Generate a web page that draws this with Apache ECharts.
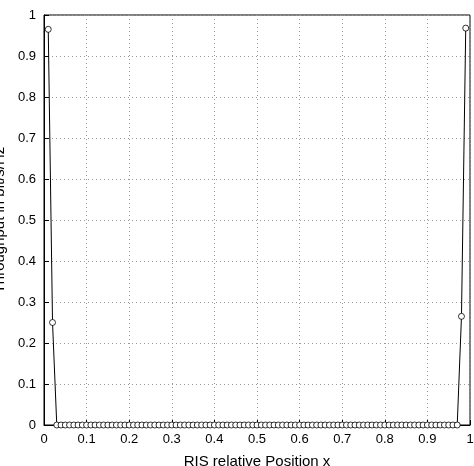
<!DOCTYPE html><html><head><meta charset="utf-8"><script src="https://cdn.jsdelivr.net/npm/echarts@6/dist/echarts.min.js"></script></head><body style="margin:0;background:#fff"><div id="c" style="width:474px;height:466px"></div><script>
var xTicks=[0,0.1,0.2,0.3,0.4,0.5,0.6,0.7,0.8,0.9,1];
var yTicks=[0,0.1,0.2,0.3,0.4,0.5,0.6,0.7,0.8,0.9,1];
var throughput=[0.965,0.25,0,0,0,0,0,0,0,0,0,0,0,0,0,0,0,0,0,0,0,0,0,0,0,0,0,0,0,0,0,0,0,0,0,0,0,0,0,0,0,0,0,0,0,0,0,0,0,0,0,0,0,0,0,0,0,0,0,0,0,0,0,0,0,0,0,0,0,0,0,0,0,0,0,0,0,0,0,0,0,0,0,0,0,0,0,0,0,0,0,0,0,0,0,0,0,0.265,0.968];
var positions=throughput.map(function(v,i){return +((i+1)/100).toFixed(2);});
var data=positions.map(function(x,i){return [x,throughput[i]];});
var font='Liberation Sans';
var ax={type:'value',min:0,max:1,interval:0.1,
 axisLine:{show:true,lineStyle:{color:'#000',width:1}},
 axisTick:{show:true,inside:true,length:5,lineStyle:{color:'#000'}},
 axisLabel:{color:'#000',fontSize:13,fontFamily:font,formatter:function(v){return +v.toFixed(1)+'';}},
 splitLine:{show:true,lineStyle:{color:'#999',type:[1,3],width:1}}};
var ch=echarts.init(document.getElementById('c'));
ch.setOption({animation:false,
 grid:{left:44,right:4,top:15,bottom:41,containLabel:false,outerBoundsMode:'none',show:true,borderColor:'#000',borderWidth:1},
 xAxis:Object.assign({},ax,{name:'RIS relative Position x',nameLocation:'middle',nameGap:29,nameTextStyle:{fontSize:15,fontFamily:font,color:'#000'}}),
 yAxis:Object.assign({},ax,{name:'Throughput in bit/s/Hz',nameLocation:'middle',nameGap:29,nameTextStyle:{fontSize:15,fontFamily:font,color:'#000'}}),
 series:[{type:'line',data:data,symbol:'circle',symbolSize:6,showSymbol:true,
  itemStyle:{color:'#fff',borderColor:'#000',borderWidth:0.8},lineStyle:{color:'#000',width:1}}]});
</script></body></html>
